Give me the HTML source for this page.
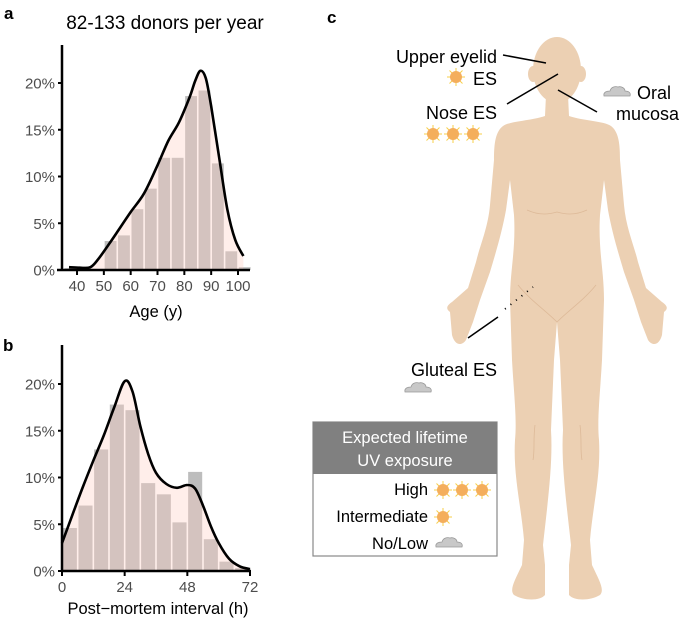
<!DOCTYPE html>
<html><head><meta charset="utf-8"><style>
body{margin:0;background:#fff;}
svg{display:block;font-family:"Liberation Sans",Arial,sans-serif;}
</style></head><body>
<svg id="fig" width="685" height="626" viewBox="0 0 685 626" xmlns="http://www.w3.org/2000/svg">
<defs>
<g id="sun"><g stroke="#f7cf4a" stroke-width="1"><line x1="-9" y1="0" x2="9" y2="0"/><line x1="0" y1="-9" x2="0" y2="9"/><line x1="-6.5" y1="-6.5" x2="6.5" y2="6.5"/><line x1="-6.5" y1="6.5" x2="6.5" y2="-6.5"/></g><circle r="6" fill="#f4ae5c"/></g>
<g id="cloud"><path d="M-13,4 C-14,0 -10,-1 -7,-1 C-6,-5 -2,-6 1,-5 C4,-6 8,-4 8,-1 C12,-1 14,1 13,4 Z" fill="#c8c8c8" stroke="#999" stroke-width="0.8"/></g>
</defs>
<text x="4" y="19" font-size="17" font-weight="bold">a</text>
<text x="3" y="351" font-size="17" font-weight="bold">b</text>
<text x="327" y="23" font-size="17" font-weight="bold">c</text>
<text x="165" y="29" font-size="19" text-anchor="middle">82-133 donors per year</text>
<g id="chartA"></g>
<g id="chartB"></g>
<text x="156" y="317" font-size="16.5" text-anchor="middle">Age (y)</text>
<text x="158" y="614" font-size="16.5" text-anchor="middle">Post−mortem interval (h)</text>

<g>
<ellipse cx="557" cy="70" rx="24" ry="33" fill="#ecd0b3"/>
<ellipse cx="533" cy="74" rx="5" ry="8" fill="#ecd0b3"/>
<ellipse cx="581" cy="74" rx="5" ry="8" fill="#ecd0b3"/>
<g id="half"><path d="M557,95 L546,95 L545,116 C530,121 510,121 503,126 C495,132 494,145 494,160 L490,205 C488,228 480,245 476,262 L468,288 L452,302 C446,306 446,309 450,312 L452,335 C455,346 462,346 466,340 L473,322 L480,300 L490,272 C496,252 502,232 506,210 L510,180 L514,215 C516,250 510,270 510,300 L512,360 C514,395 517,420 515,440 C513,475 521,505 524,540 L522,565 C515,580 509,590 514,595 C524,601 540,601 545,595 L545,565 L543,545 C548,500 553,462 551,430 L554,360 L557,322 Z" fill="#ecd0b3"/></g>
<use href="#half" transform="translate(1114,0) scale(-1,1)"/>
<g fill="none" stroke="#d9b492" stroke-width="0.8" opacity="0.8">
<path d="M527,210 C540,216 550,214 557,212 C564,214 574,216 587,210"/>
<path d="M518,285 C530,300 545,310 557,322 C569,310 584,300 596,285"/>
<path d="M535,425 C533,440 535,450 533,460"/><path d="M580,425 C582,440 580,450 582,460"/>
</g>
</g>

<g font-size="18">
<text x="497" y="63" text-anchor="end">Upper eyelid</text>
<text x="497" y="85" text-anchor="end">ES</text>
<use href="#sun" x="456" y="77"/>
<line x1="503" y1="55" x2="546" y2="63" stroke="#000" stroke-width="1.5"/>
<text x="497" y="119" text-anchor="end">Nose ES</text>
<use href="#sun" x="433" y="134"/><use href="#sun" x="453" y="134"/><use href="#sun" x="473" y="134"/>
<line x1="507" y1="104" x2="558" y2="74" stroke="#000" stroke-width="1.5"/>
<text x="637" y="99">Oral</text>
<text x="679" y="120" text-anchor="end">mucosa</text>
<use href="#cloud" x="617" y="92"/>
<line x1="558" y1="90" x2="597" y2="112" stroke="#000" stroke-width="1.5"/>
<text x="497" y="376" text-anchor="end">Gluteal ES</text>
<use href="#cloud" x="418" y="388"/>
<line x1="468" y1="338" x2="498" y2="317" stroke="#000" stroke-width="1.5"/>
<line x1="505" y1="309" x2="533" y2="287" stroke="#000" stroke-width="1.8" stroke-dasharray="1 6"/>
</g>

<g>
<rect x="313" y="422" width="184" height="134" fill="#fff" stroke="#888" stroke-width="1.2"/>
<rect x="313" y="422" width="184" height="52" fill="#808080"/>
<text x="405" y="443" font-size="16.5" fill="#fff" text-anchor="middle">Expected lifetime</text>
<text x="405" y="466" font-size="16.5" fill="#fff" text-anchor="middle">UV exposure</text>
<text x="428" y="495" font-size="16.5" text-anchor="end">High</text>
<use href="#sun" x="443" y="490"/><use href="#sun" x="462" y="490"/><use href="#sun" x="482" y="490"/>
<text x="428" y="522" font-size="16.5" text-anchor="end">Intermediate</text>
<use href="#sun" x="443" y="517"/>
<text x="428" y="549" font-size="16.5" text-anchor="end">No/Low</text>
<use href="#cloud" x="449" y="543"/>
</g>
</svg>
<script>
const NS="http://www.w3.org/2000/svg";
// Panel a data
const ageBins=[37.5,52.5,57.5,62.5,67.5,72.5,77.5,82.5,87.5,92.5,97.5,102.5];
const agePct=[0.2,3.1,3.7,6.5,8.7,12.0,12.0,18.6,19.2,11.4,2.0,0.3];
const ageCurveX=[37,41,45,48,52,56,60,65,70,74,78,82,84,86,88,90,93,96,99,102];
const ageCurveY=[0.3,0.25,0.3,1.2,2.8,4.5,6.2,8.2,11.2,13.8,15.8,18.5,20.2,21.3,20.5,17.5,12,6.5,3.2,1.5];
const ageTicks=[40,50,60,70,80,90,100];
const pctTicks=[0,5,10,15,20];
// Panel b data
const pmiBins=[3,9,15,21,27,33,39,45,51,57,63,69];
const pmiPct=[4.6,7.0,13.0,17.8,17.2,9.4,8.2,5.2,10.6,3.4,1.0,0.3];
const pmiCurveX=[0,4,8,12,16,20,24,27,30,33,36,40,44,48,51,54,57,60,64,68,72];
const pmiCurveY=[3,6,9,11.8,14.5,17.5,20.3,19.2,15.5,12.5,10.5,9.3,8.9,9.2,8.8,7,4.8,3,1.3,0.5,0.2];
const pmiTicks=[0,24,48,72];

function el(t,a,p){const e=document.createElementNS(NS,t);for(const k in a)e.setAttribute(k,a[k]);p.appendChild(e);return e;}
function smooth(pts){
  let d='M'+pts[0][0].toFixed(1)+','+pts[0][1].toFixed(1);
  for(let i=0;i<pts.length-1;i++){
    const p0=pts[Math.max(i-1,0)],p1=pts[i],p2=pts[i+1],p3=pts[Math.min(i+2,pts.length-1)];
    const c1=[p1[0]+(p2[0]-p0[0])/6,p1[1]+(p2[1]-p0[1])/6];
    const c2=[p2[0]-(p3[0]-p1[0])/6,p2[1]-(p3[1]-p1[1])/6];
    d+=' C'+c1.map(v=>v.toFixed(1)).join(',')+' '+c2.map(v=>v.toFixed(1)).join(',')+' '+p2.map(v=>v.toFixed(1)).join(',');
  }
  return d;
}
function chart(g,cfg){
  const sx=v=>cfg.x0+(v-cfg.d0)*(cfg.x1-cfg.x0)/(cfg.d1-cfg.d0);
  const sy=v=>cfg.y0-v*(cfg.y0-cfg.y20)/20;
  cfg.bins.forEach((b,i)=>{
    const r=el('rect',{x:sx(b-cfg.bw/2)+0.8,y:sy(cfg.vals[i]),width:sx(b+cfg.bw/2)-sx(b-cfg.bw/2)-1.6,height:sy(0)-sy(cfg.vals[i]),fill:'#bdbdbd'},g);
    
    
  });
  const pts=cfg.cx.map((x,i)=>[sx(x),sy(cfg.cy[i])]);
  const d=smooth(pts);
  const f=el('path',{d:d+' L'+sx(cfg.cx[cfg.cx.length-1])+','+sy(0)+' L'+sx(cfg.cx[0])+','+sy(0)+' Z',fill:'rgba(255,205,195,0.35)'},g);
  
  
  const l=el('path',{d:d,fill:'none',stroke:'#000','stroke-width':2.6,'stroke-linejoin':'round'},g);
  
  
  const ya=el('line',{x1:cfg.x0,y1:cfg.ytop,x2:cfg.x0,y2:sy(0)+1,stroke:'#000','stroke-width':2.5},g);
  
  
  const xa=el('line',{x1:cfg.xs,y1:sy(0),x2:cfg.xe,y2:sy(0),stroke:'#000','stroke-width':2.5},g);
  
  
  pctTicks.forEach(p=>{
    el('line',{x1:cfg.x0-4,y1:sy(p),x2:cfg.x0,y2:sy(p),stroke:'#000','stroke-width':2},g);
    const t=el('text',{x:cfg.x0-7,y:sy(p)+5.5,'font-size':15,fill:'#4d4d4d','text-anchor':'end'},g);t.textContent=p+'%';
    
    
  });
  cfg.ticks.forEach(v=>{
    el('line',{x1:sx(v),y1:sy(0),x2:sx(v),y2:sy(0)+5,stroke:'#000','stroke-width':2},g);
    const t=el('text',{x:sx(v),y:sy(0)+21,'font-size':15,fill:'#4d4d4d','text-anchor':'middle'},g);t.textContent=v;
    
    
  });
}
chart(document.getElementById('chartA'),{x0:62,d0:34.4,d1:100,x1:238,y0:270,y20:83,ytop:45,xs:57,xe:250,bw:5,bins:ageBins,vals:agePct,cx:ageCurveX,cy:ageCurveY,ticks:ageTicks});
chart(document.getElementById('chartB'),{x0:62,d0:0,d1:72,x1:250,y0:571,y20:384,ytop:345,xs:62,xe:251,bw:6,bins:pmiBins,vals:pmiPct,cx:pmiCurveX,cy:pmiCurveY,ticks:pmiTicks});
</script>
</body></html>
